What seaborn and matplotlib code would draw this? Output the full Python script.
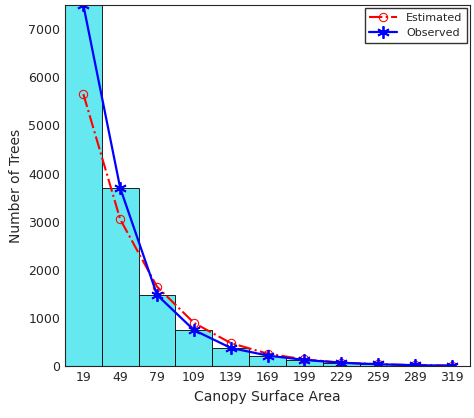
import matplotlib
matplotlib.use("Agg")
import matplotlib.pyplot as plt
import seaborn as sns
import numpy as np

# data
centers = [19, 49, 79, 109, 139, 169, 199, 229, 259, 289, 319]
counts = [7500, 3700, 1480, 750, 380, 220, 130, 70, 40, 20, 10]
estimated = [5650, 3050, 1650, 900, 480, 260, 140, 75, 40, 22, 12]
observed = [7500, 3700, 1480, 750, 380, 220, 130, 70, 40, 20, 10]

sns.set_style("ticks")
plt.rcParams["font.family"] = ["DejaVu Sans"]

fig = plt.figure(figsize=(4.74, 4.18), dpi=100)
ax = fig.add_axes([0.137, 0.124, 0.855, 0.864])

ax.bar(centers, counts, width=30, color="#66e8f0", edgecolor="black", linewidth=0.6)
sns.lineplot(x=centers, y=estimated, ax=ax, color="red", linestyle="-.", marker="o",
             markerfacecolor="none", markeredgecolor="red", markersize=6, label="Estimated")
sns.lineplot(x=centers, y=observed, ax=ax, color="blue", linestyle="-", marker=(6, 2, 0),
             markersize=9, markeredgecolor="blue", markeredgewidth=1.3, linewidth=1.6,
             label="Observed")

ax.set_xlim(4, 334)
ax.set_ylim(0, 7500)
ax.set_xticks(centers)
ax.set_yticks(range(0, 7001, 1000))
ax.tick_params(labelsize=9, direction="in")
ax.set_xlabel("Canopy Surface Area", fontsize=10)
ax.set_ylabel("Number of Trees", fontsize=10)
for s in ax.spines.values():
    s.set_visible(True)
ax.legend(loc="upper right", fontsize=8, frameon=True, fancybox=False, edgecolor="black",
          handlelength=2.5, borderaxespad=0.3)

fig.savefig("out.png", dpi=100)
